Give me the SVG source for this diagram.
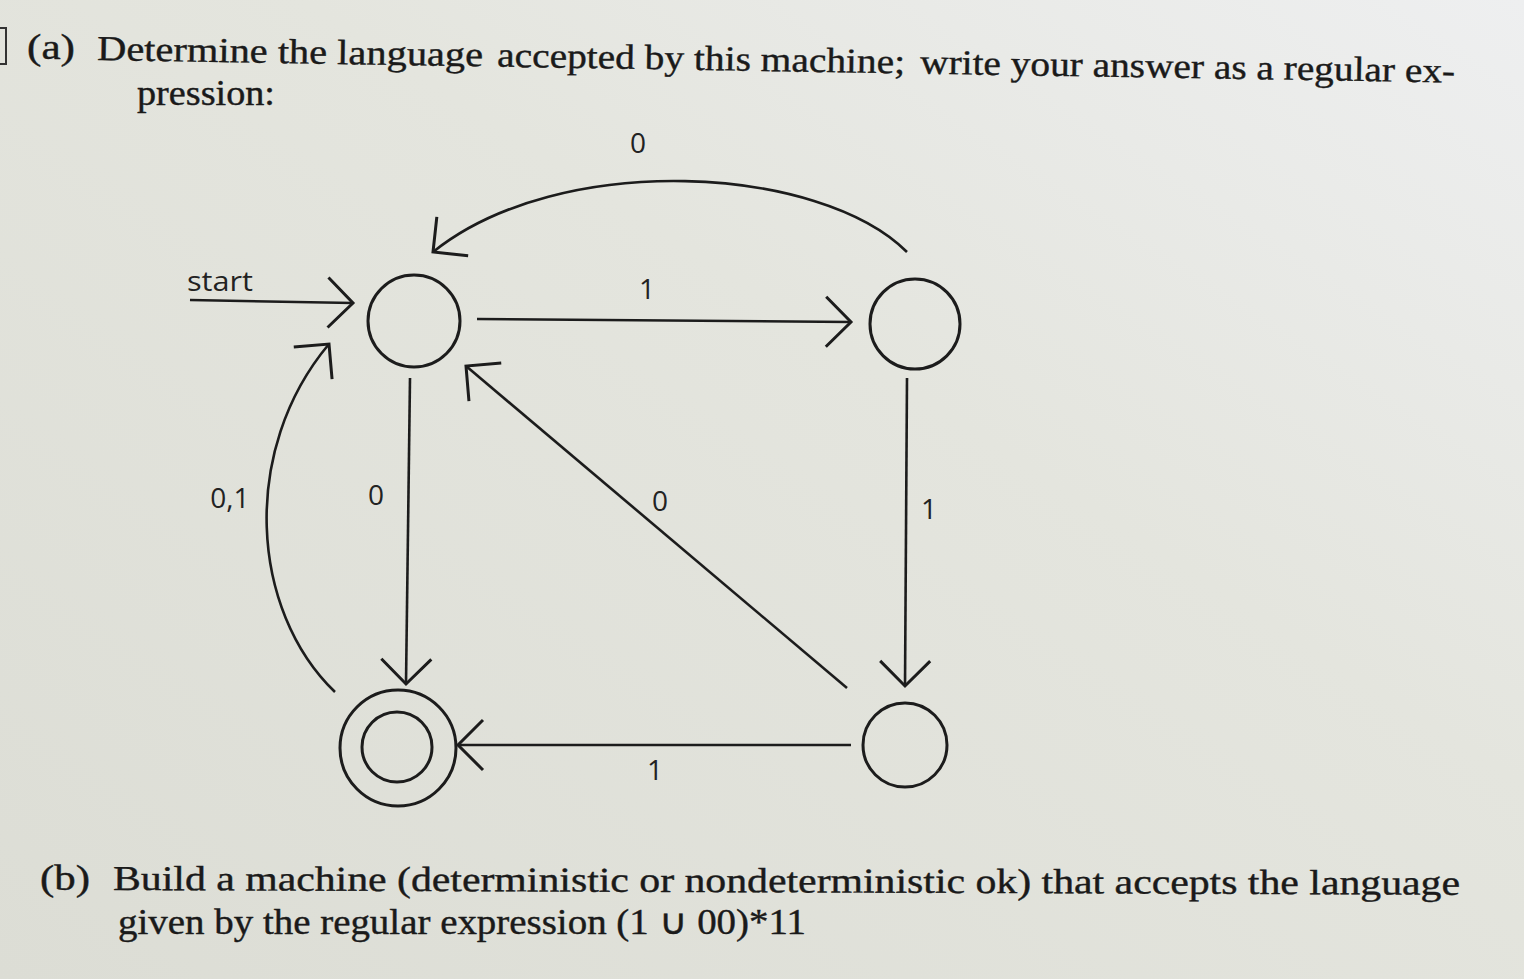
<svg xmlns="http://www.w3.org/2000/svg" width="1524" height="979" viewBox="0 0 1524 979">
<defs>
<linearGradient id="bg" x1="0" y1="1" x2="1" y2="0">
<stop offset="0" stop-color="#dcddd5"/>
<stop offset="0.6" stop-color="#e4e5de"/>
<stop offset="1" stop-color="#eeeff0"/>
</linearGradient>
<marker id="ah" viewBox="-2 -2 30 54" refX="25" refY="25" markerWidth="30" markerHeight="54" markerUnits="userSpaceOnUse" orient="auto">
<path d="M0,0 L25,25 L0,50" fill="none" stroke="#1c1c1c" stroke-width="3"/>
</marker>
<style>
.st{fill:none;stroke:#1c1c1c;stroke-width:3}
.ed{fill:none;stroke:#1c1c1c;stroke-width:2.6;marker-end:url(#ah)}
.lb{font-family:"Open Sans","Liberation Sans",sans-serif;font-size:28px;fill:#222}
.tx{font-family:"Liberation Serif",serif;font-size:35px;fill:#1a1a1a;stroke:#1a1a1a;stroke-width:0.4}
</style>
</defs>
<rect width="1524" height="979" fill="url(#bg)"/>
<rect x="-4" y="28" width="10" height="36" fill="none" stroke="#333" stroke-width="2"/>
<g id="text-a">
<text class="tx" x="27" y="59" textLength="48" lengthAdjust="spacingAndGlyphs">(a)</text>
<text class="tx" x="97" y="60" textLength="386" lengthAdjust="spacingAndGlyphs" transform="rotate(0.95 97 60)">Determine the language</text>
<text class="tx" x="497" y="66.6" textLength="408" lengthAdjust="spacingAndGlyphs" transform="rotate(0.95 497 66.6)">accepted by this machine;</text>
<text class="tx" x="920" y="73.6" textLength="535" lengthAdjust="spacingAndGlyphs" transform="rotate(0.95 920 73.6)">write your answer as a regular ex-</text>
<text class="tx" x="137" y="105" textLength="138" lengthAdjust="spacingAndGlyphs">pression:</text>
</g>
<g id="connectors">
<path class="ed" d="M190,300 L353,303"/>
<path class="ed" d="M477,319 L851,322"/>
<path class="ed" d="M907,252 C820,165 560,150 433,252"/>
<path class="ed" d="M410,378 L406,684"/>
<path class="ed" d="M847,688 L466,366"/>
<path class="ed" d="M907,378 L905,686"/>
<path class="ed" d="M851,745 L458,745"/>
<path class="ed" d="M335,692 C250,610 240,450 329,344"/>
<text class="lb" x="220" y="291" text-anchor="middle" textLength="66" lengthAdjust="spacingAndGlyphs">start</text>
<text class="lb" x="647" y="299" text-anchor="middle">1</text>
<text class="lb" x="638" y="153" text-anchor="middle">0</text>
<text class="lb" x="376" y="505" text-anchor="middle">0</text>
<text class="lb" x="660" y="511" text-anchor="middle">0</text>
<text class="lb" x="929" y="519" text-anchor="middle">1</text>
<text class="lb" x="655" y="780" text-anchor="middle">1</text>
<text class="lb" x="230" y="508" text-anchor="middle">0,1</text>
</g>
<g id="q0"><circle class="st" cx="414" cy="321" r="46"/></g>
<g id="q1"><circle class="st" cx="915" cy="324" r="45"/></g>
<g id="q2"><circle class="st" cx="398" cy="748" r="58"/><circle class="st" cx="397" cy="747" r="35"/></g>
<g id="q3"><circle class="st" cx="905" cy="745" r="42"/></g>
<g id="text-b">
<text class="tx" x="40" y="890" textLength="50" lengthAdjust="spacingAndGlyphs">(b)</text>
<text class="tx" x="113" y="890" textLength="1347" lengthAdjust="spacingAndGlyphs" transform="rotate(0.2 113 890)">Build a machine (deterministic or nondeterministic ok) that accepts the language</text>
<text class="tx" x="118" y="934" textLength="688" lengthAdjust="spacingAndGlyphs">given by the regular expression (1 ∪ 00)*11</text>
</g>
</svg>
